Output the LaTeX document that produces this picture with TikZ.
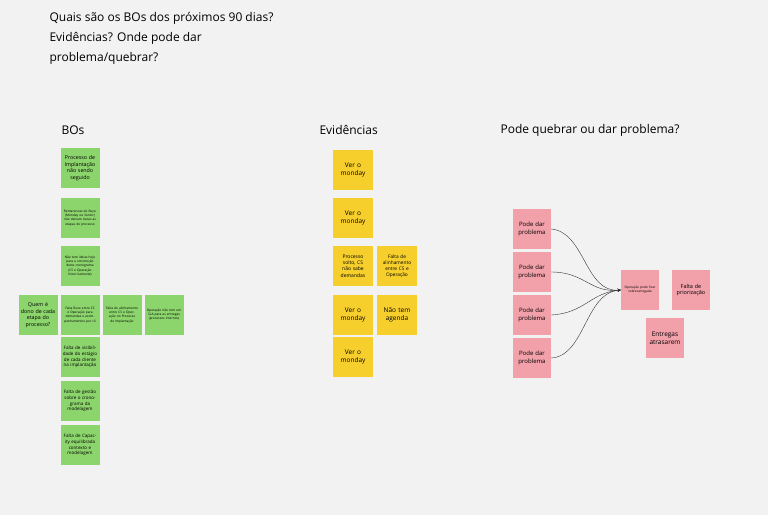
\documentclass[tikz,border=0pt]{standalone}
\usepackage{fontspec}
\setmainfont{Open Sans}
\definecolor{bg}{HTML}{F2F2F2}
\definecolor{gr}{HTML}{8CD46C}
\definecolor{ye}{HTML}{F6CF2C}
\definecolor{pk}{HTML}{F2A0A9}
\tikzset{
 note/.style={minimum width=38pt,minimum height=40pt,align=center,inner sep=1pt,text width=35pt,font=\fontsize{5.5}{6.5}\selectfont},
 gnote/.style={note,fill=gr,minimum width=39pt,minimum height=40pt,text width=35pt},
 tiny/.style={font=\fontsize{3.2}{4.2}\selectfont},
 ynote/.style={note,fill=ye,minimum width=40pt,font=\fontsize{6.5}{8}\selectfont},
 pnote/.style={note,fill=pk,font=\fontsize{6}{7.5}\selectfont},
 ttl/.style={anchor=west,font=\fontsize{12}{14}\selectfont},
 arr/.style={->,>=stealth,black!80}
}
\begin{document}
\begin{tikzpicture}[x=1pt,y=-1pt]
\fill[bg] (0,0) rectangle (768,515);
\useasboundingbox (0,0) rectangle (768,515);
\node[anchor=north west,align=left,font=\fontsize{12}{20}\selectfont] (q) at (46,9) {Quais são os BOs dos próximos 90 dias?\\Evidências? Onde pode dar\\problema/quebrar?};
\node[ttl] (t1) at (58,130) {BOs};
\node[ttl] (t2) at (316,130) {Evidências};
\node[ttl] (t3) at (497,130) {Pode quebrar ou dar problema?};
% green
\node[gnote,font=\fontsize{5.3}{6.6}\selectfont] (g1) at (80,168) {Processo de Implantação não sendo seguido};
\node[gnote,tiny] (g2) at (80,218) {Remanescas de Ruyo (Monday ou Senior) não deixam claras as etapas do processo};
\node[gnote,tiny] (g3) at (80,266) {Não tem ideias hoje para a construção deste cronograma (CS e Operação historicamente)};
\node[gnote,font=\fontsize{5.3}{6.6}\selectfont] (g4) at (38,315) {Quem é dono de cada etapa do processo?};
\node[gnote,tiny] (g5) at (80,315) {Falta fluxo entre CS e Operação para demandas e acompanhamentos por cli};
\node[gnote,tiny] (g6) at (122,315) {Falta de alinhamento entre CS e Operação no Processo de Implantação};
\node[gnote,tiny] (g7) at (164,315) {Operação não tem um SLA para as entregas (processos internos)};
\node[gnote,font=\fontsize{4.5}{5.8}\selectfont] (g8) at (80,357) {Falta de visibilidade do estágio de cada cliente na implantação};
\node[gnote,font=\fontsize{4.5}{5.8}\selectfont] (g9) at (80,401) {Falta de gestão sobre o cronograma da modelagem};
\node[gnote,font=\fontsize{4.5}{5.8}\selectfont] (g10) at (80,445) {Falta de Capacity equilibrada contexto e modelagem};
% yellow
\node[ynote] (y1) at (353,170) {Ver o monday};
\node[ynote] (y2) at (353,218) {Ver o monday};
\node[ynote,font=\fontsize{5}{6.3}\selectfont] (y3) at (353,266) {Processo solto, CS não sabe demandas};
\node[ynote,font=\fontsize{4.8}{6}\selectfont] (y4) at (397,266) {Falta de alinhamento entre CS e Operação};
\node[ynote] (y5) at (353,315) {Ver o monday};
\node[ynote] (y6) at (397,315) {Não tem agenda};
\node[ynote] (y7) at (353,357) {Ver o monday};
% pink
\node[pnote] (p1) at (532,229) {Pode dar problema};
\node[pnote] (p2) at (532,272) {Pode dar problema};
\node[pnote] (p3) at (532,315) {Pode dar problema};
\node[pnote] (p4) at (532,358) {Pode dar problema};
\node[pnote,tiny] (p5) at (640,290) {Operação pode ficar sobrecarregada};
\node[pnote,font=\fontsize{5.5}{6.8}\selectfont] (p6) at (691,290) {Falta de priorização};
\node[pnote,font=\fontsize{6.5}{8}\selectfont] (p7) at (665,338) {Entregas atrasarem};
\draw[arr] (p1.east) .. controls (585,232) and (585,293) .. (p5.west);
\draw[arr] (p2.east) .. controls (585,272) and (590,293) .. (p5.west);
\draw[arr] (p3.east) .. controls (585,313) and (590,293) .. (p5.west);
\draw[arr] (p4.east) .. controls (585,356) and (585,293) .. (p5.west);
\end{tikzpicture}
\end{document}
